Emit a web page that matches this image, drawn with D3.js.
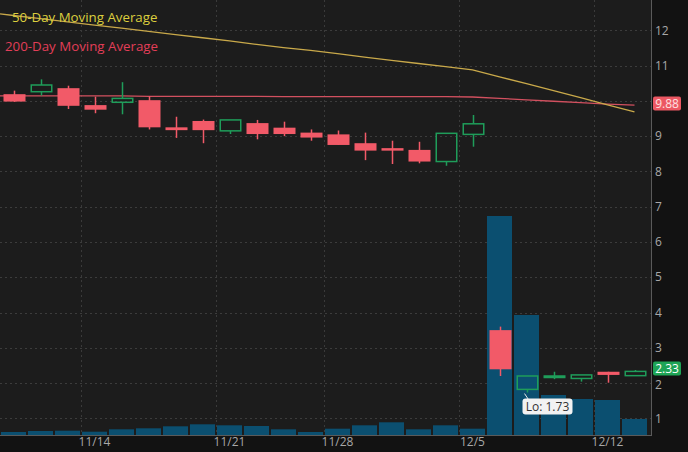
<!DOCTYPE html>
<html><head><meta charset="utf-8">
<script src="https://cdn.jsdelivr.net/npm/d3@7"></script>
<style>
html,body{margin:0;padding:0;background:#121212;}
svg{display:block;font-family:"Open Sans",sans-serif;}
</style></head>
<body><svg id="c" width="688" height="452"></svg>
<script>
const dates = ["11/9","11/10","11/11","11/14","11/15","11/16","11/17","11/18","11/21","11/22","11/23","11/25","11/28","11/29","11/30","12/1","12/2","12/5","12/6","12/7","12/8","12/9","12/12","12/13"];
const opens  = [10.19,10.26,10.36,9.88,9.96,10.02,9.25,9.43,9.15,9.37,9.24,9.10,9.05,8.80,8.66,8.61,8.28,9.05,3.50,1.82,2.17,2.13,2.32,2.21];
const highs  = [10.29,10.61,10.43,10.12,10.53,10.13,9.55,9.47,9.46,9.46,9.41,9.19,9.16,9.10,8.87,8.84,9.08,9.60,3.60,2.20,2.32,2.23,2.32,2.37];
const lows   = [9.97,10.15,9.77,9.65,9.62,9.19,8.95,8.80,9.06,8.91,9.00,8.87,8.75,8.32,8.21,8.23,8.16,8.70,2.20,1.73,2.11,2.04,2.01,2.21];
const closes = [9.98,10.45,9.86,9.75,10.07,9.25,9.17,9.17,9.46,9.06,9.06,8.96,8.75,8.59,8.59,8.28,9.08,9.35,2.39,2.20,2.20,2.23,2.23,2.33];
const volumes = [300,400,430,330,570,670,870,1070,970,900,570,300,630,970,1270,570,970,630,21900,12000,4000,3600,3500,1600];
const sma50  = [12.42,12.33,12.24,12.15,12.06,11.97,11.88,11.79,11.70,11.60,11.51,11.43,11.34,11.24,11.15,11.06,10.97,10.88,10.68,10.49,10.29,10.09,9.89,9.69];
const sma200 = [10.14,10.14,10.14,10.14,10.14,10.13,10.13,10.13,10.13,10.13,10.12,10.12,10.12,10.12,10.12,10.12,10.12,10.11,10.07,10.03,9.99,9.95,9.91,9.88];
const dateTicks = ["11/14","11/21","11/28","12/5","12/12"];
const priceTicks = [1,2,3,4,5,6,7,8,9,11,12];
const legendLabels = ["50-Day Moving Average","200-Day Moving Average"];
const lastClose = 2.33, lastSma200 = 9.88, lowLabel = "Lo: 1.73";

const svg = d3.select("#c");
const W = 688, H = 452, plotR = 651, plotB = 435;
const UP = "#1f9d5a", DOWN = "#f25a68", VOL = "#0b4f70";

svg.append("rect").attr("width",W).attr("height",H).attr("fill","#121212");
svg.append("rect").attr("x",0).attr("y",0).attr("width",plotR).attr("height",plotB).attr("fill","#1c1c1c");

const x = d3.scaleBand().domain(dates).range([0,648]).paddingInner(0).paddingOuter(0);
const y = d3.scaleLinear().domain([0.527,12.86]).range([plotB,0]);
const yVol = d3.scaleLinear().domain([0,22000]).range([plotB,215]);
const cx = d => x(d) + x.bandwidth()/2;

// grid
const g = svg.append("g");
g.selectAll(".hg").data(d3.range(1,13)).join("line")
  .attr("x1",0).attr("x2",plotR).attr("y1",d=>Math.round(y(d))+0.5).attr("y2",d=>Math.round(y(d))+0.5)
  .attr("stroke","#3c3c3c").attr("stroke-dasharray","2,3");
g.selectAll(".vg").data(dateTicks).join("line")
  .attr("x1",d=>Math.round(x(d))+0.5).attr("x2",d=>Math.round(x(d))+0.5).attr("y1",0).attr("y2",plotB)
  .attr("stroke","#3a3a3a").attr("stroke-dasharray","2,3");

// volume
svg.append("g").selectAll("rect").data(dates).join("rect")
  .attr("x",d=>x(d)+1).attr("width",x.bandwidth()-2)
  .attr("y",(d,i)=>yVol(volumes[i])).attr("height",(d,i)=>plotB-yVol(volumes[i]))
  .attr("fill",VOL);

// moving averages (first segment extended to the left plot edge)
function maPoints(arr){
  const pts = arr.map((v,i)=>[cx(dates[i]), y(v)]);
  const [x0,y0] = pts[0], [x1,y1] = pts[1];
  const slope = (y1-y0)/(x1-x0);
  return [[0, y0 - slope*x0], ...pts];
}
const line = d3.line();
svg.append("path").attr("d",line(maPoints(sma200))).attr("fill","none").attr("stroke","#d2505f").attr("stroke-width",1.3);
svg.append("path").attr("d",line(maPoints(sma50))).attr("fill","none").attr("stroke","#c9a94a").attr("stroke-width",1.3);

// candles
const bw = 22;
const cg = svg.append("g");
dates.forEach((d,i)=>{
  const o=opens[i], c=closes[i], h=highs[i], l=lows[i];
  const up = c>=o;
  const col = up?UP:DOWN;
  const top = y(Math.max(o,c)), bot = y(Math.min(o,c));
  const xc = Math.round(cx(d))+0.5;
  if (up) {
    cg.append("line").attr("x1",xc).attr("x2",xc).attr("y1",y(h)).attr("y2",top).attr("stroke",col).attr("stroke-width",1.5);
    cg.append("line").attr("x1",xc).attr("x2",xc).attr("y1",bot).attr("y2",y(l)).attr("stroke",col).attr("stroke-width",1.5);
    cg.append("rect").attr("x",xc-bw/2+0.75).attr("y",top).attr("width",bw-1.5).attr("height",Math.max(bot-top,1.5))
      .attr("fill","none").attr("stroke",col).attr("stroke-width",1.5);
  } else {
    cg.append("line").attr("x1",xc).attr("x2",xc).attr("y1",y(h)).attr("y2",y(l)).attr("stroke",col).attr("stroke-width",1.5);
    cg.append("rect").attr("x",xc-bw/2).attr("y",top).attr("width",bw).attr("height",Math.max(bot-top,2.5)).attr("fill",col);
  }
});

// axes lines
svg.append("line").attr("x1",plotR+0.5).attr("x2",plotR+0.5).attr("y1",0).attr("y2",plotB+1).attr("stroke","#5a5a5a");
svg.append("line").attr("x1",0).attr("x2",plotR+1).attr("y1",plotB+0.5).attr("y2",plotB+0.5).attr("stroke","#5a5a5a");

// y axis labels
svg.append("g").selectAll("text").data(priceTicks).join("text")
  .attr("x",655).attr("y",d=>y(d)+(d===2?2:0)).attr("dy","0.35em").attr("fill","#a8a8a8").attr("font-size",12).text(d=>d);
// x axis labels
svg.append("g").selectAll("text").data(dateTicks).join("text")
  .attr("x",d=>cx(d)).attr("y",446).attr("text-anchor","middle").attr("fill","#a8a8a8").attr("font-size",12).text(d=>d);

// price badges
function badge(v, fill, tcol, off){
  const yy = y(v) + off;
  svg.append("rect").attr("x",653).attr("y",yy-7).attr("width",28).attr("height",14).attr("rx",2).attr("fill",fill);
  svg.append("text").attr("x",667).attr("y",yy).attr("dy","0.35em").attr("text-anchor","middle")
    .attr("fill",tcol).attr("font-size",12).text(v.toFixed(2));
}
badge(lastSma200,"#ec5863","#ffe0e0",-1.5);
badge(lastClose,"#1ea456","#ffffff",-3);

// Lo callout
const li = lows.indexOf(Math.min(...lows));
const lx = cx(dates[li]), ly = y(lows[li]);
svg.append("line").attr("x1",lx-2).attr("y1",ly+1).attr("x2",lx+2).attr("y2",ly+7).attr("stroke","#e8e8e8").attr("stroke-width",1);
svg.append("rect").attr("x",lx-4).attr("y",ly+6).attr("width",50).attr("height",16).attr("rx",3).attr("fill","#f2f2f2");
svg.append("text").attr("x",lx+21).attr("y",ly+14).attr("dy","0.35em").attr("text-anchor","middle")
  .attr("fill","#333").attr("font-size",12).text(lowLabel);

// legend
svg.append("text").attr("x",12).attr("y",22).attr("fill","#dccf3e").attr("font-size",13.3).text(legendLabels[0]);
svg.append("text").attr("x",5).attr("y",51).attr("fill","#e23e58").attr("font-size",13.3).text(legendLabels[1]);
</script></body></html>
